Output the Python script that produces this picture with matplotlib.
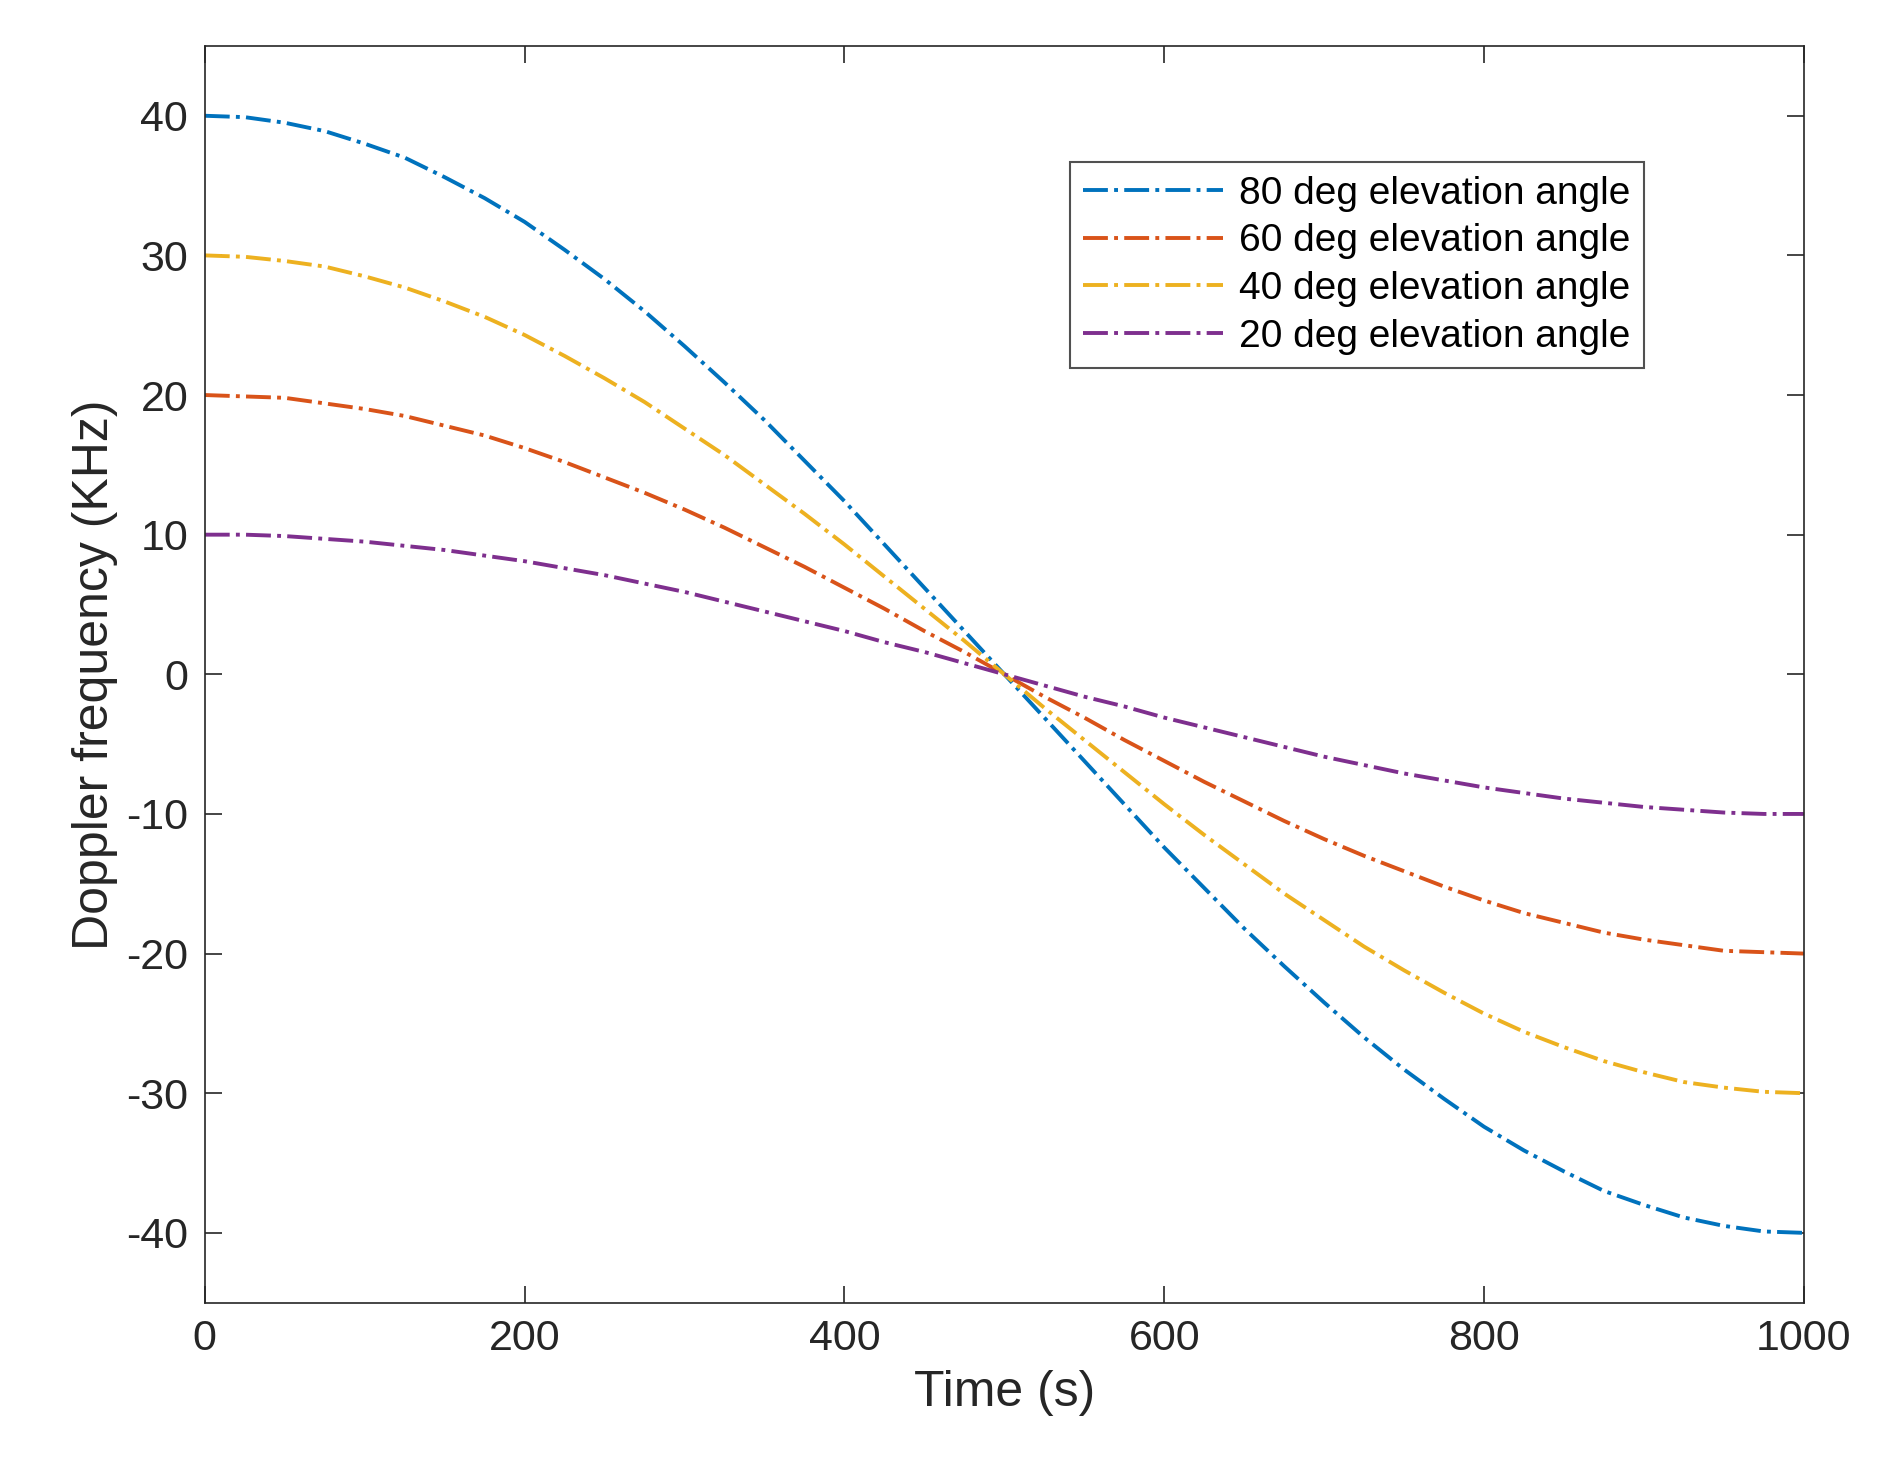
import matplotlib.pyplot as plt

time_s = [0, 25, 50, 75, 100, 125, 150, 175, 200, 225, 250, 275, 300, 325,
          350, 375, 400, 425, 450, 475, 500, 525, 550, 575, 600, 625, 650,
          675, 700, 725, 750, 775, 800, 825, 850, 875, 900, 925, 950, 975, 1000]

dop_80 = [40, 39.9, 39.5, 38.9, 38.0, 37.0, 35.6, 34.1, 32.4, 30.4, 28.3,
          26.0, 23.5, 20.9, 18.2, 15.3, 12.4, 9.3, 6.2, 3.1, 0,
          -3.1, -6.2, -9.3, -12.4, -15.3, -18.2, -20.9, -23.5, -26.0, -28.3,
          -30.4, -32.4, -34.1, -35.6, -37.0, -38.0, -38.9, -39.5, -39.9, -40]
dop_60 = [20, 19.9, 19.8, 19.4, 19.0, 18.5, 17.8, 17.1, 16.2, 15.2, 14.1,
          13.0, 11.8, 10.5, 9.1, 7.7, 6.2, 4.7, 3.1, 1.6, 0,
          -1.6, -3.1, -4.7, -6.2, -7.7, -9.1, -10.5, -11.8, -13.0, -14.1,
          -15.2, -16.2, -17.1, -17.8, -18.5, -19.0, -19.4, -19.8, -19.9, -20]
dop_40 = [30, 29.9, 29.6, 29.2, 28.5, 27.7, 26.7, 25.6, 24.3, 22.8, 21.2,
          19.5, 17.6, 15.7, 13.6, 11.5, 9.3, 7.0, 4.7, 2.4, 0,
          -2.4, -4.7, -7.0, -9.3, -11.5, -13.6, -15.7, -17.6, -19.5, -21.2,
          -22.8, -24.3, -25.6, -26.7, -27.7, -28.5, -29.2, -29.6, -29.9, -30]
dop_20 = [10, 10.0, 9.9, 9.7, 9.5, 9.2, 8.9, 8.5, 8.1, 7.6, 7.1,
          6.5, 5.9, 5.2, 4.5, 3.8, 3.1, 2.3, 1.6, 0.8, 0,
          -0.8, -1.6, -2.3, -3.1, -3.8, -4.5, -5.2, -5.9, -6.5, -7.1,
          -7.6, -8.1, -8.5, -8.9, -9.2, -9.5, -9.7, -9.9, -10.0, -10]

labels = ['80 deg elevation angle', '60 deg elevation angle',
          '40 deg elevation angle', '20 deg elevation angle']
colors = ['#0072BD', '#D95319', '#EDB120', '#7E2F8E']

plt.rcParams['font.family'] = ['Liberation Sans', 'DejaVu Sans']
plt.rcParams['axes.unicode_minus'] = False
fig = plt.figure(figsize=(18.79, 14.82), dpi=100)
ax = fig.add_axes([0.109, 0.121, 0.851, 0.848])

for ys, lab, c in zip([dop_80, dop_60, dop_40, dop_20], labels, colors):
    ax.plot(time_s, ys, linestyle='-.', color=c, linewidth=2.8, label=lab)

ax.set_xlim(0, 1000)
ax.set_ylim(-45, 45)
ax.set_xticks([0, 200, 400, 600, 800, 1000])
ax.set_yticks([-40, -30, -20, -10, 0, 10, 20, 30, 40])
ax.tick_params(direction='in', top=True, right=True, length=12, width=1.2,
               labelsize=31, pad=12, colors='#262626')
for s in ax.spines.values():
    s.set_linewidth(1.2)
    s.set_color('#262626')
ax.set_xlabel('Time (s)', fontsize=36, color='#262626', labelpad=8)
ax.set_ylabel('Doppler frequency (KHz)', fontsize=36, color='#262626', labelpad=6)

leg = ax.legend(loc='upper right', bbox_to_anchor=(0.912, 0.923), fontsize=28,
                frameon=True, fancybox=False, edgecolor='#262626',
                handlelength=3.6, handletextpad=0.4, borderpad=0.35,
                labelspacing=0.3)
leg.get_frame().set_linewidth(1.5)

fig.savefig('out.png')
